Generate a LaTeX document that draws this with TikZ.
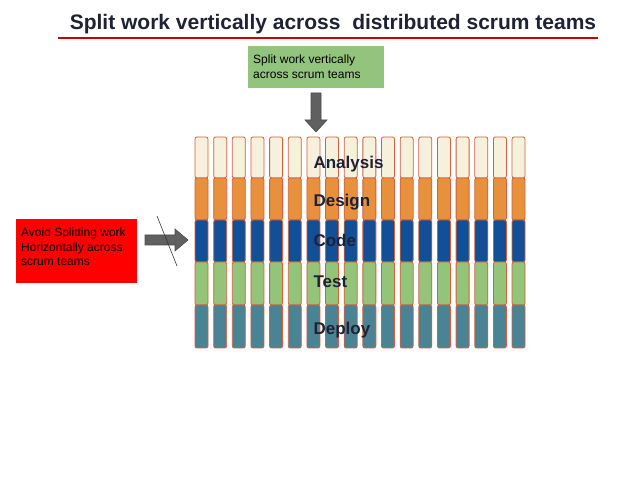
\documentclass[tikz,border=0pt]{standalone}
\usepackage{fontspec}
\setmainfont{Liberation Sans}
\begin{document}
\begin{tikzpicture}[x=1pt,y=-1pt,
  seg/.style={draw=edge,line width=0.8pt,rounded corners=2pt},
  lab/.style={anchor=west,font=\bfseries\fontsize{17}{19}\selectfont,text=labc},
  box/.style={anchor=north west,align=left,inner sep=3pt,font=\fontsize{12}{14.5}\selectfont},
  garrow/.style={fill=gray!75!black,draw=black!70,line width=0.6pt}]
\definecolor{edge}{HTML}{D0603E}
\definecolor{c1}{HTML}{F6F1DC}
\definecolor{c2}{HTML}{E8913C}
\definecolor{c3}{HTML}{134F97}
\definecolor{c4}{HTML}{94C47A}
\definecolor{c5}{HTML}{4A8394}
\definecolor{labc}{HTML}{1F2235}
\definecolor{gbox}{HTML}{93C47D}
\definecolor{rbox}{HTML}{FF0000}
\useasboundingbox (0,0) rectangle (638,478);
\node[font=\bfseries\fontsize{21}{23}\selectfont,text=labc] (title) at (333,24) {Split work vertically across\ \ distributed scrum teams};
\draw[line width=2pt,red!80!black] (58,38) coordinate (l1) -- (598,38) coordinate (l2);
\foreach \i in {0,...,17}{
  \pgfmathsetmacro{\x}{195+18.65*\i}
  \foreach \t/\b/\c in {137/178/c1,178/220/c2,220/262/c3,262/305/c4,305/348/c5}{
    \draw[seg,fill=\c] (\x,\t) rectangle (\x+13,\b);
  }
}
\node[lab] (an) at (310,164) {Analysis};
\node[lab] (de) at (310,202) {Design};
\node[lab] (co) at (310,240) {Code};
\node[lab] (te) at (310,282) {Test};
\node[lab] (dp) at (310,330) {Deploy};
\fill[gbox] (248,46) rectangle (384,88);
\node[box] (g) at (250,52) {Split work vertically\\across scrum teams};
\fill[rbox] (16,219) rectangle (137,283);
\node[box] (r) at (18,225) {Avoid Splitting work\\Horizontally across\\scrum teams};
\draw[garrow] (311,93) -- (321,93) -- (321,120) -- (327,120) -- (316,132) -- (305,120) -- (311,120) -- cycle;
\draw[garrow] (145,235) -- (175,235) -- (175,229) -- (188,240) -- (175,251) -- (175,245) -- (145,245) -- cycle;
\draw[black!80,line width=0.6pt] (157,216) coordinate (s1) -- (177,266) coordinate (s2);
\end{tikzpicture}
\end{document}
